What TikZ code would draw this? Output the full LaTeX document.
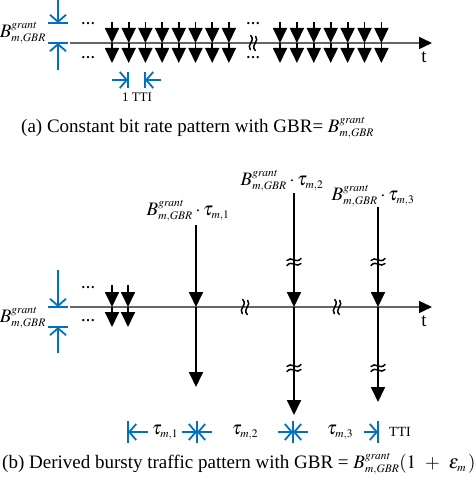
\documentclass[tikz,border=0pt]{standalone}
\usepackage{mathptmx}
\usepackage{fontspec}
\setmainfont{Liberation Serif}
\usetikzlibrary{arrows.meta}
\DeclareMathSizes{19}{19}{11.5}{8}
\definecolor{dimblue}{RGB}{0,112,192}
\definecolor{axisgray}{RGB}{105,100,100}
\newcommand{\Bg}{B^{\mathit{grant}}_{m,\mathit{GBR}}}
\tikzset{
  stem/.style={line width=1.8pt, black, -{Triangle[width=14pt,length=15pt]}},
  axisline/.style={line width=1.5pt, axisgray, -{Triangle[width=12pt,length=13pt,color=black]}},
  dimline/.style={line width=1.8pt, dimblue, -{Straight Barb[width=16pt,length=7pt]}},
  dimbar/.style={line width=1.8pt, dimblue},
  lbl/.style={font=\fontsize{19}{22}\selectfont, inner sep=0pt},
  captext/.style={font=\fontsize{19}{22}\selectfont, inner sep=0pt},
  small/.style={font=\fontsize{13}{15}\selectfont, inner sep=0pt},
  dots/.style={font=\fontsize{14}{15}\selectfont\bfseries, inner sep=0pt},
  wav/.pic={
    \draw[line width=1.5pt, black, line cap=round]
      (-7,-1.5) .. controls (-3,-6.5) and (2,2.5) .. (7,-3.5)
      (-7,3.5) .. controls (-2,-2.5) and (3,6.5) .. (7,1.5);
  },
}
\begin{document}
\begin{tikzpicture}[x=1pt,y=-1pt]
\useasboundingbox (0,0) rectangle (474,481);

% ---------------- (a) ----------------
\coordinate (a0) at (70,43);
\coordinate (a1) at (432,43);
\draw[axisline] (a0) -- (a1);
\node[lbl] (ta) at (424,57) {t};

% blue dimension left
\coordinate (adt0) at (58,0);
\coordinate (adt1) at (58,23);
\coordinate (adb0) at (58,70);
\coordinate (adb1) at (58,43);
\coordinate (abt0) at (48,23);
\coordinate (abt1) at (68,23);
\coordinate (abb0) at (48,43);
\coordinate (abb1) at (68,43);
\draw[dimline] (adt0) -- (adt1);
\draw[dimline] (adb0) -- (adb1);
\draw[dimbar] (abt0) -- (abt1);
\draw[dimbar] (abb0) -- (abb1);
\node[lbl, anchor=east] (aB) at (46,33) {$\Bg$};

% small arrows
\foreach \i in {0,...,7} {
  \coordinate (at\i) at ({112+16.7*\i},22);
  \coordinate (am\i) at ({112+16.7*\i},43);
  \coordinate (ab\i) at ({112+16.7*\i},63);
  \draw[stem] (at\i) -- (am\i);
  \draw[stem] (am\i) -- (ab\i);
}
\foreach \i in {0,...,6} {
  \coordinate (rt\i) at ({280+16.9*\i},22);
  \coordinate (rm\i) at ({280+16.9*\i},43);
  \coordinate (rb\i) at ({280+16.9*\i},63);
  \draw[stem] (rt\i) -- (rm\i);
  \draw[stem] (rm\i) -- (rb\i);
}
\node[dots] (ad1) at (88,24) {…};
\node[dots] (ad2) at (88,58) {…};
\node[dots] (ad3) at (253,24) {…};
\node[dots] (ad4) at (253,58) {…};
\pic[rotate=80] (asq) at (253,43) {wav};

% 1 TTI
\coordinate (tl0) at (112,80);
\coordinate (tl1) at (128,80);
\coordinate (tr0) at (161,80);
\coordinate (tr1) at (145,80);
\coordinate (tlb0) at (128,72);
\coordinate (tlb1) at (128,88);
\coordinate (trb0) at (145,72);
\coordinate (trb1) at (145,88);
\draw[dimline] (tl0) -- (tl1);
\draw[dimline] (tr0) -- (tr1);
\draw[dimbar] (tlb0) -- (tlb1);
\draw[dimbar] (trb0) -- (trb1);
\node[small] (tti) at (137,97) {1 TTI};

\node[captext, anchor=west] (capa) at (21,128) {(a) Constant bit rate pattern with GBR= $\Bg$};

% ---------------- (b) ----------------
\coordinate (b0) at (70,307);
\coordinate (b1) at (432,307);
\draw[axisline] (b0) -- (b1);
\node[lbl] (tb) at (424,321) {t};

\coordinate (bdt0) at (58,270);
\coordinate (bdt1) at (58,307);
\coordinate (bdb0) at (58,353);
\coordinate (bdb1) at (58,327);
\coordinate (bbt0) at (48,307);
\coordinate (bbt1) at (68,307);
\coordinate (bbb0) at (48,327);
\coordinate (bbb1) at (68,327);
\draw[dimline] (bdt0) -- (bdt1);
\draw[dimline] (bdb0) -- (bdb1);
\draw[dimbar] (bbt0) -- (bbt1);
\draw[dimbar] (bbb0) -- (bbb1);
\node[lbl, anchor=east] (bB) at (46,318) {$\Bg$};

\node[dots] (bd1) at (88,288) {…};
\node[dots] (bd2) at (88,321) {…};
\foreach \i/\x in {0/112,1/128} {
  \coordinate (bt\i) at (\x,285);
  \coordinate (bm\i) at (\x,307);
  \coordinate (bb\i) at (\x,327);
  \draw[stem] (bt\i) -- (bm\i);
  \draw[stem] (bm\i) -- (bb\i);
}

% big arrows
\coordinate (p1t) at (196,225);
\coordinate (p1m) at (196,307);
\coordinate (p1b) at (196,387);
\draw[stem] (p1t) -- (p1m);
\draw[stem] (p1m) -- (p1b);
\node[lbl] (l1) at (188,211) {$\Bg\cdot\tau_{m,1}$};

\coordinate (p2t) at (294,193);
\coordinate (p2m) at (294,307);
\coordinate (p2b) at (294,415);
\draw[stem] (p2t) -- (p2m);
\draw[stem] (p2m) -- (p2b);
\pic (s2a) at (294,262) {wav};
\pic (s2b) at (294,368) {wav};
\node[lbl] (l2) at (282,181) {$\Bg\cdot\tau_{m,2}$};

\coordinate (p3t) at (378,207);
\coordinate (p3m) at (378,307);
\coordinate (p3b) at (378,402);
\draw[stem] (p3t) -- (p3m);
\draw[stem] (p3m) -- (p3b);
\pic (s3a) at (378,262) {wav};
\pic (s3b) at (378,368) {wav};
\node[lbl] (l3) at (373,196) {$\Bg\cdot\tau_{m,3}$};

\pic[rotate=80] (bsq1) at (245,307) {wav};
\pic[rotate=80] (bsq2) at (337,307) {wav};

% bottom dimension row
\foreach \n/\x in {q1/128,q2/197,q3/293,q4/378} {
  \coordinate (\n t) at (\x,421);
  \coordinate (\n b) at (\x,443);
  \coordinate (\n c) at (\x,432);
  \draw[dimbar] (\n t) -- (\n b);
}
\coordinate (e1) at (148,432);
\coordinate (e2l) at (182,432);
\coordinate (e2r) at (212,432);
\coordinate (e3l) at (278,432);
\coordinate (e3r) at (308,432);
\coordinate (e4l) at (364,432);
\draw[dimline] (e1) -- (q1c);
\draw[dimline] (e2l) -- (q2c);
\draw[dimline] (e2r) -- (q2c);
\draw[dimline] (e3l) -- (q3c);
\draw[dimline] (e3r) -- (q3c);
\draw[dimline] (e4l) -- (q4c);
\node[lbl] (tau1) at (165,432) {$\tau_{m,1}$};
\node[lbl] (tau2) at (245,432) {$\tau_{m,2}$};
\node[lbl] (tau3) at (340,432) {$\tau_{m,3}$};
\node[small, font=\fontsize{14}{16}\selectfont] (tti2) at (400,432) {TTI};

\node[captext, anchor=west] (capb) at (2,464) {(b) Derived bursty traffic pattern with GBR = $\Bg(1\mskip6mu+\mskip6mu\varepsilon_m\,)$};
\end{tikzpicture}
\end{document}
